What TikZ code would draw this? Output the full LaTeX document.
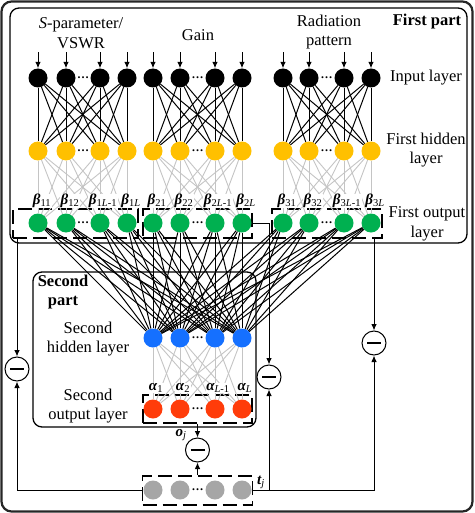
\documentclass[tikz,border=0pt]{standalone}
\usepackage{fontspec}
\setmainfont{Liberation Serif}
\usetikzlibrary{arrows.meta}
\definecolor{hidY}{HTML}{FFC000}
\definecolor{outG}{HTML}{00B050}
\definecolor{hidB}{HTML}{1570FF}
\definecolor{outR}{HTML}{FF3C0A}
\definecolor{tarG}{HTML}{A6A6A6}
\definecolor{lineG}{HTML}{C4C4C4}
\newcommand{\bgk}[1]{{\bfseries\itshape #1}}
\begin{document}
\begin{tikzpicture}[x=1pt,y=-1pt,
 neuron/.style={circle,inner sep=0pt,minimum size=19pt},
 blk/.style={line width=1pt,black},
 gry/.style={line width=0.9pt,color=lineG},
 arr/.style={line width=1pt,-{Latex[length=6.5pt,width=5.5pt]}},
 dbox/.style={draw,dash pattern=on 14pt off 6pt,line width=1.1pt,inner sep=0pt},
 lbl/.style={font=\fontsize{16.5}{19.5}\selectfont,align=center,inner sep=0pt},
 wlbl/.style={font=\fontsize{15}{15}\selectfont,inner sep=0.6pt,fill=white},
 dotsn/.style={font=\fontsize{12}{12}\selectfont\bfseries,inner sep=0pt},
 minus/.style={circle,draw,line width=1pt,minimum size=24pt,inner sep=0pt,fill=white,
   path picture={\draw[line width=1.3pt] ([xshift=-7pt]path picture bounding box.center) -- ([xshift=7pt]path picture bounding box.center);}},
 frame/.style={draw,line width=1.3pt,rounded corners=9pt}
]
\useasboundingbox (0,0) rectangle (474,513);
% frames
\draw[line width=2.2pt,rounded corners=10pt,black!85] (1.5,1.5) rectangle (472.5,511.5);
\draw[frame] (10,8) rectangle (467,243);
\draw[frame] (33,272) rectangle (256,427);

% titles
\node[lbl] (tS) at (81,33) {\textit{S}-parameter/\\VSWR};
\node[lbl] (tG) at (198,35) {Gain};
\node[lbl] (tR) at (329,32) {Radiation\\pattern};
\node[lbl,font=\fontsize{16.5}{19.5}\selectfont\bfseries] (tF) at (427,22) {First part};
\node[lbl] (tI) at (426,78) {Input layer};
\node[lbl] (tH) at (426,150) {First hidden\\layer};
\node[lbl] (tO) at (427,224) {First output\\layer};
\node[lbl,font=\fontsize{16.5}{19.5}\selectfont\bfseries] (tSP) at (63,292) {Second\\part};
\node[lbl] (tSH) at (88,339) {Second\\hidden layer};
\node[lbl] (tSO) at (88,406) {Second\\output layer};

% dashed boxes
\node[dbox,minimum width=125pt,minimum height=29pt] (B1) at (75.5,223.5) {};
\node[dbox,minimum width=109pt,minimum height=29pt] (B2) at (197.5,223.5) {};
\node[dbox,minimum width=110pt,minimum height=29pt] (B3) at (327,223.5) {};
\node[dbox,minimum width=109pt,minimum height=28pt] (BR) at (197.5,409) {};
\node[dbox,minimum width=110pt,minimum height=29pt] (BT) at (197.5,490.5) {};

% first part neurons
\foreach \g/\k/\x in {1/1/38,1/2/66,1/3/100,1/4/127,
                      2/1/153,2/2/180,2/3/215,2/4/242,
                      3/1/283,3/2/309,3/3/344,3/4/371} {
  \node[neuron,fill=black] (in-\g-\k) at (\x,78) {};
  \node[neuron,fill=hidY] (h-\g-\k) at (\x,151) {};
  \node[neuron,fill=outG] (o-\g-\k) at (\x,223) {};
  \draw[arr] ([yshift=16pt]in-\g-\k.north) -- (in-\g-\k.north);
}
% second part neurons
\foreach \k/\x in {1/153,2/180,3/215,4/242} {
  \node[neuron,fill=hidB] (b-\k) at (\x,338) {};
  \node[neuron,fill=outR] (r-\k) at (\x,409) {};
  \node[neuron,fill=tarG] (t-\k) at (\x,490) {};
}
% dots
\foreach \n/\x in {1/83,2/197.5,3/326.5} {
  \node[dotsn] (di-\n) at (\x,78) {…};
  \node[dotsn] (dh-\n) at (\x,151) {…};
  \node[dotsn] (do-\n) at (\x,223) {…};
}
\node[dotsn] (db) at (197.5,338) {…};
\node[dotsn] (dr) at (197.5,409) {…};
\node[dotsn] (dt) at (197.5,490) {…};

% connections
\foreach \g in {1,2,3} {
  \foreach \a in {1,...,4} {
    \foreach \b in {1,...,4} {
      \draw[blk] (in-\g-\a) -- (h-\g-\b);
      \draw[gry] (h-\g-\a) -- (o-\g-\b);
      \draw[blk] (o-\g-\a) -- (b-\b);
    }
  }
}
\foreach \a in {1,...,4} {
  \foreach \b in {1,...,4} {
    \draw[gry] (b-\a) -- (r-\b);
  }
}

% weight labels
\node[wlbl] (l11) at (42,201) {\bgk{β}\textsubscript{11}};
\node[wlbl] (l12) at (70,201) {\bgk{β}\textsubscript{12}};
\node[wlbl] (l13) at (103,201) {\bgk{β}\textsubscript{1\textit{L}-1}};
\node[wlbl] (l14) at (131,201) {\bgk{β}\textsubscript{1\textit{L}}};
\node[wlbl] (l21) at (157,201) {\bgk{β}\textsubscript{21}};
\node[wlbl] (l22) at (184,201) {\bgk{β}\textsubscript{22}};
\node[wlbl] (l23) at (218,201) {\bgk{β}\textsubscript{2\textit{L}-1}};
\node[wlbl] (l24) at (246,201) {\bgk{β}\textsubscript{2\textit{L}}};
\node[wlbl] (l31) at (287,201) {\bgk{β}\textsubscript{31}};
\node[wlbl] (l32) at (313,201) {\bgk{β}\textsubscript{32}};
\node[wlbl] (l33) at (347,201) {\bgk{β}\textsubscript{3\textit{L}-1}};
\node[wlbl] (l34) at (375,201) {\bgk{β}\textsubscript{3\textit{L}}};
\node[wlbl] (a1) at (156,388) {\bgk{α}\textsubscript{1}};
\node[wlbl] (a2) at (183,388) {\bgk{α}\textsubscript{2}};
\node[wlbl] (a3) at (218,388) {\bgk{α}\textsubscript{\textit{L}-1}};
\node[wlbl] (a4) at (245,388) {\bgk{α}\textsubscript{\textit{L}}};
\node[wlbl,fill=none] (oj) at (181,435) {\bgk{o}\textsubscript{\textit{j}}};
\node[wlbl,fill=none] (tj) at (261,482) {\bgk{t}\textsubscript{\textit{j}}};

% minus circles
\node[minus] (m0) at (197.5,450) {};
\node[minus] (m1) at (17,369) {};
\node[minus] (m2) at (269,377) {};
\node[minus] (m3) at (374,343) {};

% feedback connectors
\draw[arr] (BR.south) -- (m0);
\draw[arr] (BT.north) -- (m0);
\draw[arr] (B1.south -| m1) -- (m1);
\draw[arr] (BT.west) -| (m1);
\draw[arr] (B2.east) -| (m2);
\draw[arr] (BT.east -| m2) -- (m2);
\draw[arr] (B3.south -| m3) -- (m3);
\draw[arr] (BT.east) -| (m3);
\end{tikzpicture}
\end{document}
